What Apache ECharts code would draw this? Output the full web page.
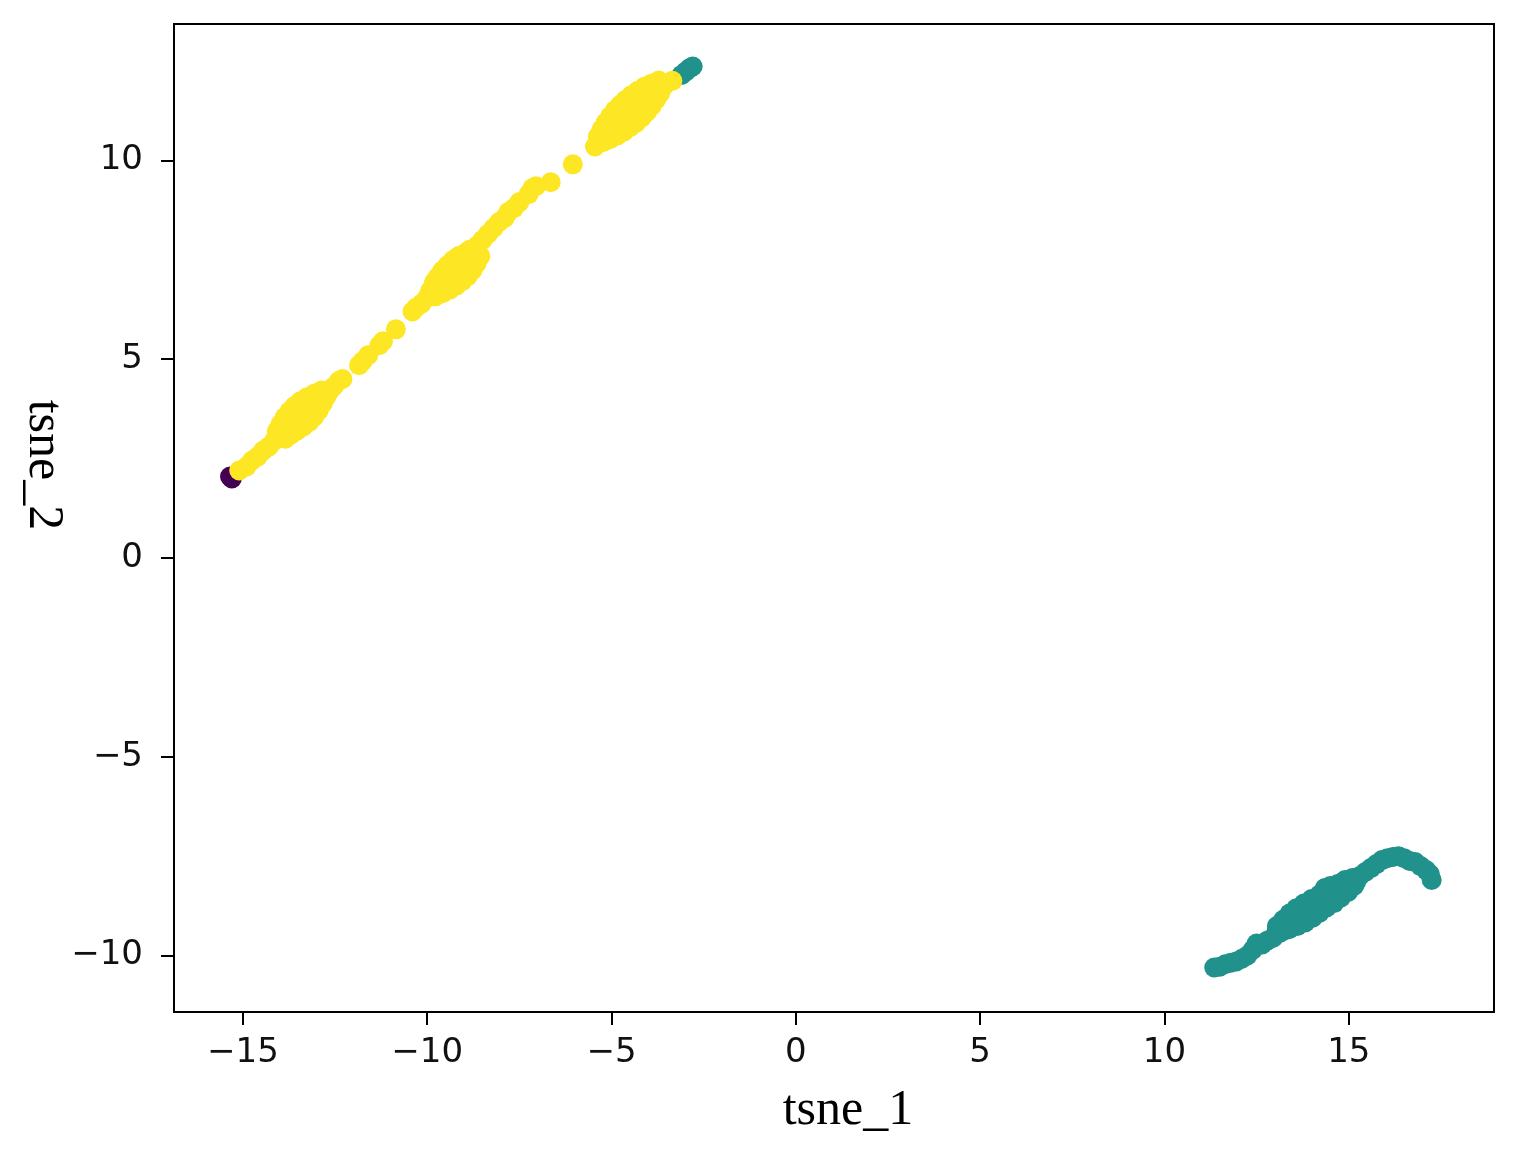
<!DOCTYPE html>
<html>
<head>
<meta charset="utf-8">
<script src="https://cdn.jsdelivr.net/npm/echarts@6/dist/echarts.min.js"></script>
<style>html,body{margin:0;padding:0;background:#fff;}#main{width:1513px;height:1154px;}</style>
</head>
<body>
<div id="main"></div>
<script>
// ---- data ----
const xTicks = [-15, -10, -5, 0, 5, 10, 15];
const yTicks = [-10, -5, 0, 5, 10];
const xTitle = 'tsne_1';
const yTitle = 'tsne_2';

// class 0 (purple)
const purplePoints = [[-15.35, 2.05], [-15.3, 2.0]];

// class 2 (yellow) – diagonal band in the upper left
const yellowPoints = [
  [-15.1,2.2],[-14.9,2.3],[-14.75,2.45],[-14.6,2.55],[-14.45,2.7],[-14.3,2.8],[-14.15,2.95],[-14.0,3.05],
  [-13.9,3.2],[-13.85,3.0],[-13.75,3.35],[-13.7,3.1],[-13.6,3.45],[-13.55,3.25],[-13.5,3.6],[-13.45,3.4],
  [-13.4,3.7],[-13.35,3.5],[-13.3,3.8],[-13.25,3.55],[-13.2,3.75],[-13.15,3.9],[-13.1,3.65],[-13.05,3.85],
  [-13.0,3.95],[-12.9,3.9],[-12.85,4.05],[-12.75,4.1],[-12.65,4.2],[-12.55,4.3],
  [-14.08,3.19],[-13.98,3.37],[-13.87,3.54],[-13.74,3.69],[-13.6,3.82],[-13.44,3.94],[-13.26,4.04],[-13.07,4.13],[-12.87,4.21],
  [-13.92,3.03],[-13.72,3.11],[-13.53,3.2],[-13.36,3.31],[-13.2,3.42],[-13.06,3.56],[-12.94,3.72],[-12.83,3.89],[-12.73,4.07],
  [-12.4,4.45],[-12.3,4.5],
  [-11.85,4.85],[-11.75,4.95],[-11.6,5.1],
  [-11.3,5.35],[-11.2,5.45],
  [-10.85,5.75],
  [-10.4,6.2],[-10.3,6.3],[-10.15,6.4],[-10.0,6.55],[-9.9,6.6],
  [-9.85,6.8],[-9.8,6.95],[-9.7,6.75],[-9.65,7.05],[-9.6,6.9],[-9.5,7.2],[-9.45,7.0],[-9.4,7.3],
  [-9.35,7.1],[-9.3,7.45],[-9.25,7.25],[-9.2,7.55],[-9.1,7.35],[-9.05,7.6],[-9.0,7.45],[-8.9,7.6],
  [-8.85,7.75],[-8.75,7.7],[-8.65,7.85],
  [-9.92,6.72],[-9.82,6.9],[-9.71,7.07],[-9.59,7.23],[-9.45,7.36],[-9.3,7.49],[-9.13,7.6],[-8.94,7.69],[-8.74,7.77],
  [-9.78,6.58],[-9.58,6.66],[-9.39,6.75],[-9.21,6.85],[-9.05,6.96],[-8.9,7.09],[-8.77,7.24],[-8.66,7.41],[-8.56,7.59],
  [-8.5,8.0],[-8.35,8.15],[-8.2,8.3],[-8.05,8.45],[-7.9,8.55],[-7.8,8.7],[-7.65,8.8],[-7.5,8.95],
  [-7.25,9.15],[-7.15,9.3],[-7.05,9.35],
  [-6.65,9.45],
  [-6.05,9.9],
  [-5.45,10.35],
  [-5.3,10.45],[-5.2,10.6],[-5.1,10.7],[-5.0,10.85],[-4.95,10.65],[-4.9,11.0],[-4.85,10.8],[-4.8,11.1],
  [-4.75,10.9],[-4.7,11.2],[-4.65,10.95],[-4.6,11.3],[-4.5,11.05],[-4.45,11.4],[-4.35,11.2],[-4.3,11.5],
  [-4.2,11.35],[-4.1,11.6],[-4.0,11.5],[-3.95,11.75],[-3.85,11.6],[-3.8,11.85],[-3.7,11.75],[-3.6,11.9],
  [-3.5,11.95],[-3.35,12.0],
  [-5.37,10.6],[-5.27,10.78],[-5.16,10.95],[-5.04,11.11],[-4.91,11.26],[-4.77,11.39],[-4.62,11.52],[-4.46,11.64],
  [-4.29,11.75],[-4.11,11.85],[-3.92,11.93],[-3.72,12.01],
  [-5.23,10.46],[-5.03,10.54],[-4.84,10.63],[-4.66,10.73],[-4.49,10.84],[-4.33,10.95],[-4.18,11.08],[-4.04,11.22],
  [-3.91,11.37],[-3.79,11.53],[-3.68,11.69],[-3.58,11.87]
];

// class 1 (teal) – tip of the band and cluster in the lower right
const tealPoints = [
  [-3.1,12.15],[-2.98,12.24],[-2.88,12.32],[-2.8,12.36],
  [11.35,-10.3],[11.5,-10.28],[11.65,-10.22],[11.8,-10.18],[11.95,-10.15],[12.1,-10.08],[12.25,-10.0],
  [12.4,-9.85],[12.5,-9.7],[12.65,-9.72],[12.8,-9.62],[12.95,-9.55],[13.05,-9.35],[13.15,-9.25],
  [13.25,-9.1],[13.3,-9.35],[13.4,-8.95],[13.45,-9.2],[13.55,-8.85],[13.6,-9.1],[13.7,-8.8],[13.75,-9.05],
  [13.85,-8.75],[13.9,-8.95],[14.0,-8.65],[14.1,-8.85],[14.2,-8.55],[14.3,-8.75],[14.35,-8.3],[14.45,-8.6],
  [14.5,-8.25],[14.6,-8.5],[14.7,-8.2],[14.8,-8.4],[14.9,-8.1],[15.0,-8.3],[15.1,-8.05],[15.2,-8.15],
  [15.3,-8.0],[15.45,-7.9],[15.6,-7.8],[15.75,-7.7],[15.9,-7.6],[16.05,-7.55],[16.2,-7.52],[16.35,-7.5],
  [16.5,-7.55],[16.65,-7.62],[16.8,-7.65],[16.95,-7.75],[17.1,-7.85],[17.2,-7.95],[17.25,-8.1],
  [13.05,-9.26],[13.22,-9.1],[13.4,-8.94],[13.58,-8.81],[13.78,-8.69],[13.99,-8.58],[14.2,-8.47],[14.4,-8.36],
  [14.61,-8.26],[14.82,-8.16],[15.05,-8.08],
  [13.15,-9.42],[13.38,-9.34],[13.6,-9.26],[13.82,-9.17],[14.02,-9.05],[14.21,-8.92],[14.4,-8.79],[14.6,-8.68],
  [14.79,-8.54],[14.98,-8.4],[15.15,-8.24]
];

const colors = { purple: '#440154', teal: '#21918c', yellow: '#fde725' };

const fmt = v => String(v).replace('-', '\u2212');

const chart = echarts.init(document.getElementById('main'), null, { renderer: 'canvas' });
const tickFont = { fontFamily: 'DejaVu Sans', fontSize: 34, color: '#111' };
const titleFont = '50px "Liberation Serif", "Times New Roman", serif';
const option = {
  animation: false,
  backgroundColor: '#fff',
  grid: { left: 174, top: 24, width: 1320, height: 988, show: true, borderColor: '#000', borderWidth: 2, backgroundColor: '#fff' },
  xAxis: {
    type: 'value', min: -16.87, max: 18.94,
    splitLine: { show: false },
    axisLine: { show: true, onZero: false, lineStyle: { color: '#000', width: 2 } },
    axisTick: { show: true, inside: false, length: 13, lineStyle: { color: '#000', width: 2 }, customValues: xTicks },
    axisLabel: Object.assign({ margin: 24, formatter: fmt, customValues: xTicks, showMinLabel: true, showMaxLabel: true }, tickFont)
  },
  yAxis: {
    type: 'value', min: -11.42, max: 13.43,
    splitLine: { show: false },
    axisLine: { show: true, onZero: false, lineStyle: { color: '#000', width: 2 } },
    axisTick: { show: true, inside: false, length: 13, lineStyle: { color: '#000', width: 2 }, customValues: yTicks },
    axisLabel: Object.assign({ margin: 31, formatter: fmt, customValues: yTicks, showMinLabel: true, showMaxLabel: true }, tickFont)
  },
  series: [
    { type: 'scatter', data: purplePoints, symbolSize: 20, itemStyle: { color: colors.purple, opacity: 1 } },
    { type: 'scatter', data: tealPoints, symbolSize: 20, itemStyle: { color: colors.teal, opacity: 1 } },
    { type: 'scatter', data: yellowPoints, symbolSize: 20, itemStyle: { color: colors.yellow, opacity: 1 } }
  ],
  graphic: [
    { type: 'text', x: 848, y: 1111, style: { text: xTitle, font: titleFont, fill: '#000', textAlign: 'center', textVerticalAlign: 'middle' } },
    { type: 'text', x: 43, y: 465, rotation: -Math.PI / 2, style: { text: yTitle, font: titleFont, fill: '#000', textAlign: 'center', textVerticalAlign: 'middle' } }
  ]
};
chart.setOption(option);
</script>
</body>
</html>
